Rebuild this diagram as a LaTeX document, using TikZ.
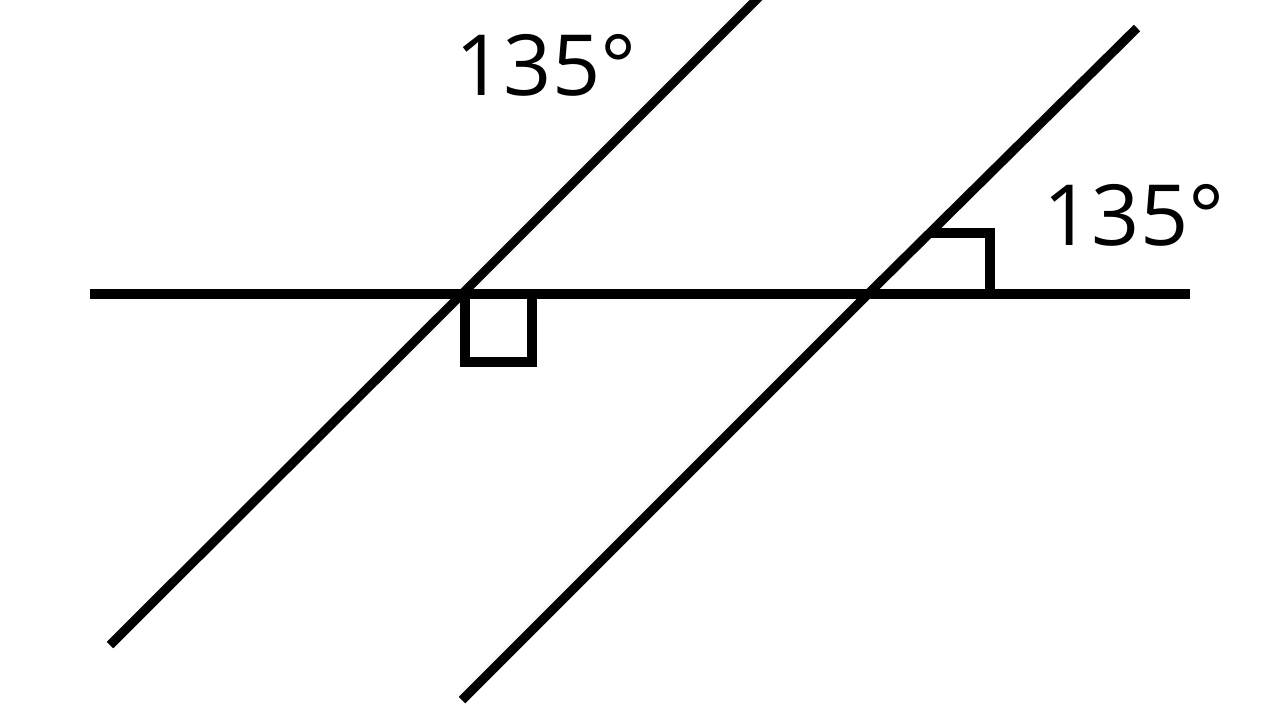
\documentclass[tikz,border=0pt]{standalone}
\usepackage{fontspec}
\setmainfont{Open Sans}
\begin{document}
\begin{tikzpicture}[x=0.01cm, y=-0.01cm, line width=2.6pt]
\useasboundingbox (0,0) rectangle (1280,720);
\clip (0,0) rectangle (1280,720);
\coordinate (A) at (462,294);
\coordinate (B) at (868,294);
\draw (90,294) -- (A) -- (B) -- (1190,294);
\draw (110,645) -- (A) -- (760,-4);
\draw (462,700) -- (B) -- (1137,28);
\draw (465,294) rectangle (532,362);
\draw (929,233) -- (990,233) -- (990,294);
\node [font=\fontsize{24}{28}\selectfont] (T1) at (546,65) {135°};
\node [font=\fontsize{24}{28}\selectfont] (T2) at (1134,215) {135°};
\end{tikzpicture}
\end{document}
